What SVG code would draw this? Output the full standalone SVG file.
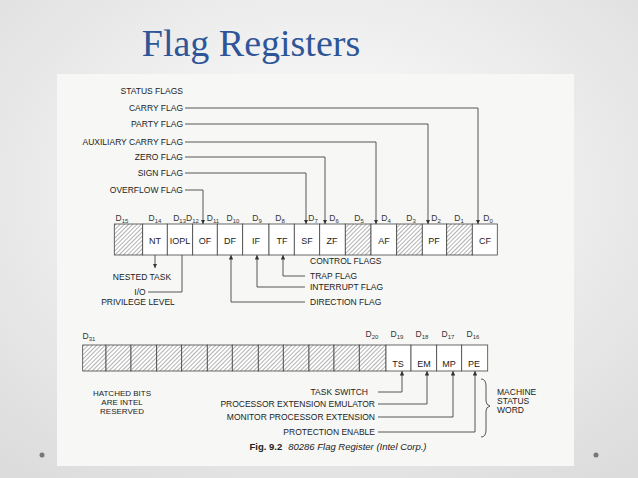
<svg xmlns="http://www.w3.org/2000/svg" width="638" height="478" viewBox="0 0 638 478">
<defs>
<radialGradient id="bg" cx="50%" cy="40%" r="75%"><stop offset="0" stop-color="#ffffff"/><stop offset="1" stop-color="#dcdcdc"/></radialGradient>
<pattern id="h" width="3" height="3" patternUnits="userSpaceOnUse" patternTransform="rotate(45)"><rect width="3" height="3" fill="#fff"/><line x1="0" y1="0" x2="0" y2="3" stroke="#555" stroke-width="0.9"/></pattern>
<marker id="a" viewBox="0 0 6 6" refX="6" refY="3" markerWidth="5" markerHeight="5" orient="auto"><path d="M0,0L6,3L0,6z" fill="#333"/></marker>
</defs>
<style>
.t{font-family:"Liberation Sans",Arial,sans-serif;font-size:8.5px;fill:#222}
.c{font-family:"Liberation Sans",Arial,sans-serif;font-size:9px;fill:#222;text-anchor:middle}
.d{font-family:"Liberation Sans",Arial,sans-serif;font-size:8.5px;fill:#333;text-anchor:middle}
.cell{fill:#fff;stroke:#444;stroke-width:0.8}
.hc{fill:url(#h);stroke:#444;stroke-width:0.8}
.l{fill:none;stroke:#444;stroke-width:0.9}
.la{fill:none;stroke:#444;stroke-width:0.9;marker-end:url(#a)}
</style>
<rect width="638" height="478" fill="url(#bg)"/>
<text x="251" y="56" font-family="'Liberation Serif','DejaVu Serif',serif" font-size="38" fill="#2e5597" text-anchor="middle">Flag Registers</text>
<rect x="57" y="74" width="517" height="392" fill="#f7f7f5"/>
<circle cx="42" cy="455" r="2.5" fill="#777"/>
<circle cx="596" cy="455" r="2.5" fill="#777"/>

<g id="register16">
<rect class="hc" x="114.3" y="224" width="28.4" height="31"/>
<rect class="cell" x="142.7" y="224" width="24.6" height="31"/>
<rect class="cell" x="167.3" y="224" width="25.4" height="31"/>
<rect class="cell" x="192.7" y="224" width="24.6" height="31"/>
<rect class="cell" x="217.3" y="224" width="25.4" height="31"/>
<rect class="cell" x="242.7" y="224" width="26.3" height="31"/>
<rect class="cell" x="269" y="224" width="25.3" height="31"/>
<rect class="cell" x="294.3" y="224" width="25.4" height="31"/>
<rect class="cell" x="319.7" y="224" width="25.6" height="31"/>
<rect class="hc" x="345.3" y="224" width="25.7" height="31"/>
<rect class="cell" x="371" y="224" width="25.7" height="31"/>
<rect class="hc" x="396.7" y="224" width="25.6" height="31"/>
<rect class="cell" x="422.3" y="224" width="24.4" height="31"/>
<rect class="hc" x="446.7" y="224" width="25.6" height="31"/>
<rect class="cell" x="472.3" y="224" width="25" height="31"/>
<text class="c" x="155" y="244">NT</text>
<text class="c" x="180" y="244">IOPL</text>
<text class="c" x="205" y="244">OF</text>
<text class="c" x="230" y="244">DF</text>
<text class="c" x="256" y="244">IF</text>
<text class="c" x="282" y="244">TF</text>
<text class="c" x="307" y="244">SF</text>
<text class="c" x="332" y="244">ZF</text>
<text class="c" x="384" y="244">AF</text>
<text class="c" x="434" y="244">PF</text>
<text class="c" x="485" y="244">CF</text>
<g class="d">
<text x="122" y="221">D<tspan font-size="6" dy="2">15</tspan></text>
<text x="155" y="221">D<tspan font-size="6" dy="2">14</tspan></text>
<text x="186" y="221">D<tspan font-size="6" dy="2">13</tspan><tspan dy="-2">D</tspan><tspan font-size="6" dy="2">12</tspan></text>
<text x="213" y="221">D<tspan font-size="6" dy="2">11</tspan></text>
<text x="233" y="221">D<tspan font-size="6" dy="2">10</tspan></text>
<text x="257" y="221">D<tspan font-size="6" dy="2">9</tspan></text>
<text x="280" y="221">D<tspan font-size="6" dy="2">8</tspan></text>
<text x="313" y="221">D<tspan font-size="6" dy="2">7</tspan></text>
<text x="334" y="221">D<tspan font-size="6" dy="2">6</tspan></text>
<text x="359" y="221">D<tspan font-size="6" dy="2">5</tspan></text>
<text x="386" y="221">D<tspan font-size="6" dy="2">4</tspan></text>
<text x="411" y="221">D<tspan font-size="6" dy="2">3</tspan></text>
<text x="436" y="221">D<tspan font-size="6" dy="2">2</tspan></text>
<text x="459" y="221">D<tspan font-size="6" dy="2">1</tspan></text>
<text x="488" y="221">D<tspan font-size="6" dy="2">0</tspan></text>
</g>
</g>

<g id="labels16" class="t">
<text x="183" y="94" text-anchor="end">STATUS FLAGS</text>
<text x="183" y="111" text-anchor="end">CARRY FLAG</text>
<text x="183" y="127" text-anchor="end">PARTY FLAG</text>
<text x="183" y="145" text-anchor="end">AUXILIARY CARRY FLAG</text>
<text x="183" y="160" text-anchor="end">ZERO FLAG</text>
<text x="183" y="176" text-anchor="end">SIGN FLAG</text>
<text x="183" y="193" text-anchor="end">OVERFLOW FLAG</text>
<text x="310" y="264">CONTROL FLAGS</text>
<text x="310" y="279">TRAP FLAG</text>
<text x="310" y="290">INTERRUPT FLAG</text>
<text x="310" y="305">DIRECTION FLAG</text>
<text x="142" y="280" text-anchor="middle">NESTED TASK</text>
<text x="140" y="295" text-anchor="middle">I/O</text>
<text x="138" y="305" text-anchor="middle">PRIVILEGE LEVEL</text>
</g>

<g id="register32">
<rect class="hc" x="82.7" y="345" width="23.3" height="26"/>
<rect class="hc" x="106" y="345" width="25" height="26"/>
<rect class="hc" x="131" y="345" width="25.7" height="26"/>
<rect class="hc" x="156.7" y="345" width="25" height="26"/>
<rect class="hc" x="181.7" y="345" width="25.6" height="26"/>
<rect class="hc" x="207.3" y="345" width="25" height="26"/>
<rect class="hc" x="232.3" y="345" width="26" height="26"/>
<rect class="hc" x="258.3" y="345" width="25" height="26"/>
<rect class="hc" x="283.3" y="345" width="25.7" height="26"/>
<rect class="hc" x="309" y="345" width="25" height="26"/>
<rect class="hc" x="334" y="345" width="25.3" height="26"/>
<rect class="hc" x="359.3" y="345" width="26.7" height="26"/>
<rect class="cell" x="386" y="345" width="25" height="26"/>
<rect class="cell" x="411" y="345" width="25.7" height="26"/>
<rect class="cell" x="436.7" y="345" width="25" height="26"/>
<rect class="cell" x="461.7" y="345" width="26" height="26"/>
<text class="c" x="398" y="367">TS</text>
<text class="c" x="424" y="367">EM</text>
<text class="c" x="449" y="367">MP</text>
<text class="c" x="474" y="367">PE</text>
<g class="d">
<text x="89" y="339">D<tspan font-size="6" dy="2">31</tspan></text>
<text x="372" y="337">D<tspan font-size="6" dy="2">20</tspan></text>
<text x="397" y="337">D<tspan font-size="6" dy="2">19</tspan></text>
<text x="422" y="337">D<tspan font-size="6" dy="2">18</tspan></text>
<text x="448" y="337">D<tspan font-size="6" dy="2">17</tspan></text>
<text x="473" y="337">D<tspan font-size="6" dy="2">16</tspan></text>
</g>
</g>

<g id="labels32" class="t">
<text x="368" y="395" text-anchor="end">TASK SWITCH</text>
<text x="375" y="407" text-anchor="end">PROCESSOR EXTENSION EMULATOR</text>
<text x="375" y="420" text-anchor="end">MONITOR PROCESSOR EXTENSION</text>
<text x="375" y="435" text-anchor="end">PROTECTION ENABLE</text>
<text x="497" y="395">MACHINE</text>
<text x="497" y="404">STATUS</text>
<text x="497" y="413">WORD</text>
<text x="122" y="396" text-anchor="middle" font-size="8">HATCHED BITS</text>
<text x="122" y="405" text-anchor="middle" font-size="8">ARE INTEL</text>
<text x="122" y="414" text-anchor="middle" font-size="8">RESERVED</text>
</g>

<g id="connectors">
<path class="la" d="M185 108H478V224"/>
<path class="la" d="M185 124H428V224"/>
<path class="la" d="M185 142H376V224"/>
<path class="la" d="M185 157H325V224"/>
<path class="la" d="M185 173H306V224"/>
<path class="la" d="M185 190H203V224"/>
<path class="la" d="M305 276H283V255"/>
<path class="la" d="M305 287H257V255"/>
<path class="la" d="M305 302H231V255"/>
<path class="la" d="M155 255V268"/>
<path class="l" d="M148 292H182V255"/>
<path class="la" d="M378 392H402V371"/>
<path class="la" d="M378 404H427V371"/>
<path class="la" d="M378 417H453V371"/>
<path class="la" d="M378 432H475V371"/>
<path class="l" d="M481 379Q486 379 486 386V401Q486 405 490 406Q486 407 486 411V430Q486 437 481 437"/>
</g>
<text x="338" y="450" font-family="'Liberation Sans',Arial,sans-serif" font-size="9.5" fill="#222" text-anchor="middle"><tspan font-weight="bold">Fig. 9.2</tspan><tspan font-style="italic" dx="6">80286 Flag Register (Intel Corp.)</tspan></text>
</svg>
